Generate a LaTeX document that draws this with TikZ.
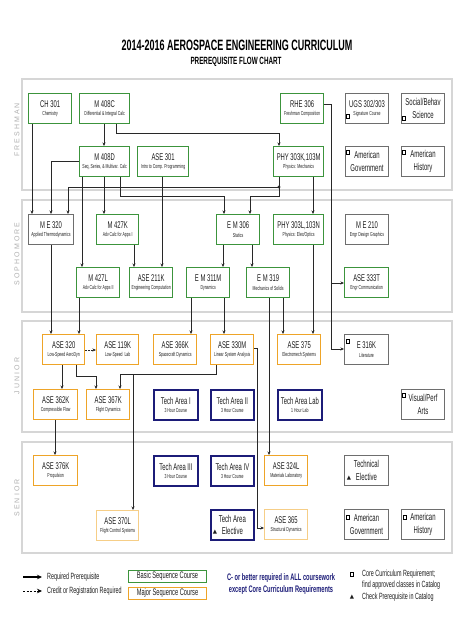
\documentclass[tikz,border=0pt]{standalone}
\usepackage{fontspec}
\setmainfont{Liberation Sans}[FakeStretch=0.6]
\newfontfamily\lblfont{Liberation Sans}[LetterSpace=30]
\newfontfamily\symfont{DejaVu Sans}
\usetikzlibrary{arrows.meta}
\definecolor{cgreen}{RGB}{60,148,60}
\definecolor{corange}{RGB}{238,164,40}
\definecolor{cpale}{RGB}{246,206,135}
\definecolor{cnavy}{RGB}{28,28,120}
\definecolor{cgray}{RGB}{110,110,110}
\definecolor{cpanel}{RGB}{214,214,214}
\definecolor{clbl}{RGB}{175,175,175}
\definecolor{cline}{RGB}{40,40,40}
\definecolor{ctext}{RGB}{30,30,30}
\newcommand\subt[1]{\\[-1.5pt]{\fontsize{5.8}{6}\selectfont #1}}
\tikzset{
  crs/.style={draw, fill=white, minimum height=30pt, inner sep=0pt, align=center,
    anchor=north west, text=ctext, font=\fontsize{9.8}{10}\selectfont},
  basic/.style={crs, draw=cgreen, line width=1.3pt},
  major/.style={crs, draw=corange, line width=1.4pt},
  pale/.style={crs, draw=cpale, line width=1.3pt},
  tech/.style={crs, draw=cnavy, line width=1.7pt},
  techbig/.style={tech, font=\fontsize{10}{12.5}\selectfont},
  corecode/.style={crs, draw=cgray, line width=1pt},
  core/.style={corecode, font=\fontsize{10}{12.5}\selectfont},
  panel/.style={draw=cpanel, line width=1.2pt, fill=white},
  yr/.style={rotate=90, text=clbl, font=\lblfont\fontsize{7}{8}\selectfont},
  arr/.style={draw=cline, line width=0.7pt, -{Stealth[length=3.5pt,width=3pt]}},
  dotarr/.style={arr, dash pattern=on 1.5pt off 1.5pt},
  legarr/.style={draw=black, line width=1.2pt, -{Stealth[length=5pt,width=4.5pt]}},
  legdash/.style={legarr, line width=0.8pt, dash pattern=on 2pt off 1.5pt},
  sqsym/.style={draw=black, line width=0.5pt, minimum width=2.6pt, minimum height=3.6pt, inner sep=0pt},
  trisym/.style={inner sep=0pt, text=ctext, font=\symfont\fontsize{5.5}{5.5}\selectfont},
  legtxt/.style={anchor=west, inner sep=0pt, text=ctext, font=\fontsize{9}{10}\selectfont},
  legbox/.style={anchor=north west, inner sep=0pt, line width=1pt, minimum width=78pt,
    minimum height=12pt, text=ctext, font=\fontsize{9.5}{10}\selectfont},
}
\begin{document}
\begin{tikzpicture}[x=1pt,y=-1pt]
\useasboundingbox (0,0) rectangle (474,632);
\fill[white] (0,0) rectangle (474,632);
\foreach \v in {32,51,55,62,68,76,79,82,96,104,116,120,133,134,162,191,216,223,224,250,252,257,269,279,283,313,331}
  \coordinate (X\v) at (\v,0);
\foreach \v in {104,133,161,187,196,283,348,349,350,374,376,528}
  \coordinate (Y\v) at (0,\v);

% title
\node[font=\bfseries\fontsize{15}{18}\selectfont, text=black] (title) at (237,45) {2014-2016 AEROSPACE ENGINEERING CURRICULUM};
\node[font=\bfseries\fontsize{10.5}{12}\selectfont, text=black] (subtitle) at (236,62) {PREREQUISITE FLOW CHART};

% panels
\draw[panel] (22,79) rectangle (452,190);
\draw[panel] (22,200) rectangle (452,312);
\draw[panel] (22,321) rectangle (452,432);
\draw[panel] (22,442) rectangle (452,553);
\node[yr] (lfr) at (17,130) {FRESHMAN};
\node[yr] (lso) at (17,254) {SOPHOMORE};
\node[yr] (lju) at (17,376) {JUNIOR};
\node[yr] (lse) at (17,498) {SENIOR};

% freshman
\node[basic, minimum width=43pt] (ch301) at (28,93) {CH 301\subt{Chemistry}};
\node[basic, minimum width=50pt] (m408c) at (79,93) {M 408C\subt{Differential \& Integral Calc}};
\node[basic, minimum width=43pt] (rhe306) at (280,93) {RHE 306\subt{Freshman Composition}};
\node[corecode, minimum width=43pt] (ugs) at (345,93) {UGS 302/303\subt{Signature Course}};
\node[core, minimum width=43pt] (socbeh) at (401,93) {Social/Behav\\Science};
\node[basic, minimum width=50pt] (m408d) at (79,146) {M 408D\subt{Seq, Series, \& Multivar. Calc}};
\node[basic, minimum width=51pt] (ase301) at (137,146) {ASE 301\subt{Intro to Comp. Programming}};
\node[basic, minimum width=50pt] (phy303k) at (273,146) {PHY 303K,103M\subt{Physics: Mechanics}};
\node[core, minimum width=43pt] (amgov1) at (345,146) {American\\Government};
\node[core, minimum width=43pt] (amhist1) at (401,146) {American\\History};

% sophomore
\node[corecode, minimum width=45pt] (me320) at (28,214) {M E 320\subt{Applied Thermodynamics}};
\node[basic, minimum width=42pt] (m427k) at (96,214) {M 427K\subt{Adv Calc for Apps I}};
\node[basic, minimum width=43pt] (em306) at (216,214) {E M 306\subt{Statics}};
\node[basic, minimum width=50pt] (phy303l) at (273,214) {PHY 303L,103N\subt{Physics: Elec/Optics}};
\node[corecode, minimum width=43pt] (me210) at (345,214) {M E 210\subt{Engr Design Graphics}};
\node[basic, minimum width=43pt] (m427l) at (76,267) {M 427L\subt{Adv Calc for Apps II}};
\node[basic, minimum width=43pt] (ase211k) at (129,267) {ASE 211K\subt{Engineering Computation}};
\node[basic, minimum width=43pt] (em311m) at (186,267) {E M 311M\subt{Dynamics}};
\node[basic, minimum width=43pt] (em319) at (246,267) {E M 319\subt{Mechanics of Solids}};
\node[basic, minimum width=44pt] (ase333t) at (344,267) {ASE 333T\subt{Engr Communication}};

% junior
\node[major, minimum width=42pt] (ase320) at (42,334) {ASE 320\subt{Low-Speed AeroDyn}};
\node[major, minimum width=42pt] (ase119k) at (96,334) {ASE 119K\subt{Low-Speed\ \ Lab}};
\node[major, minimum width=43pt] (ase366k) at (153,334) {ASE 366K\subt{Spacecraft Dynamics}};
\node[major, minimum width=43pt] (ase330m) at (210,334) {ASE 330M\subt{Linear System Analysis}};
\node[major, minimum width=43pt] (ase375) at (277,334) {ASE 375\subt{Electromech Systems}};
\node[corecode, minimum width=44pt] (e316k) at (344,334) {E 316K\subt{Literature}};
\node[major, minimum width=44pt] (ase362k) at (33,389) {ASE 362K\subt{Compressible Flow}};
\node[major, minimum width=43pt] (ase367k) at (86,389) {ASE 367K\subt{Flight Dynamics}};
\node[tech, minimum width=44pt] (ta1) at (153,389) {Tech Area I\subt{3 Hour Course}};
\node[tech, minimum width=43pt] (ta2) at (210,389) {Tech Area II\subt{3 Hour Course}};
\node[tech, minimum width=44pt] (talab) at (277,389) {Tech Area Lab\subt{1 Hour Lab}};
\node[core, minimum width=43pt] (visarts) at (401,389) {Visual/Perf\\Arts};

% senior
\node[major, minimum width=44pt] (ase376k) at (33,455) {ASE 376K\subt{Propulsion}};
\node[tech, minimum width=44pt] (ta3) at (153,455) {Tech Area III\subt{3 Hour Course}};
\node[tech, minimum width=43pt] (ta4) at (210,455) {Tech Area IV\subt{3 Hour Course}};
\node[major, minimum width=43pt] (ase324l) at (264,455) {ASE 324L\subt{Materials Laboratory}};
\node[core, minimum width=44pt] (techel) at (344,455) {Technical\\Elective};
\node[pale, minimum width=42pt] (ase370l) at (96,510) {ASE 370L\subt{Flight Control Systems}};
\node[techbig, minimum width=43pt] (taelec) at (210,509) {Tech Area\\Elective};
\node[pale, minimum width=43pt] (ase365) at (264,509) {ASE 365\subt{Structural Dynamics}};
\node[core, minimum width=44pt] (amgov2) at (344,509) {American\\Government};
\node[core, minimum width=43pt] (amhist2) at (401,509) {American\\History};

% symbols
\node[sqsym] (sq1) at (347.5,116) {};
\node[sqsym] (sq2) at (403.5,118) {};
\node[sqsym] (sq3) at (347.5,152) {};
\node[sqsym] (sq4) at (404,152) {};
\node[sqsym] (sq5) at (348,341) {};
\node[sqsym] (sq6) at (404,395) {};
\node[sqsym] (sq7) at (347.5,517) {};
\node[sqsym] (sq8) at (405,517) {};
\node[trisym] (tr1) at (349,478) {▲};
\node[trisym] (tr2) at (215,532) {▲};

% connectors
\draw[arr] (ch301.south -| X32) -- (me320.north -| X32);
\draw[arr] (m408c.south -| X104) -- (m408d.north -| X104);
\draw[arr] (m408c.south -| X116) -- (X116 |- Y133) -| (phy303k.north -| X279);
\draw[arr] (m408d.west |- Y161) -| (me320.north -| X51);
\draw[arr] (phy303k.south -| X279) -- (X279 |- Y187) -| (me320.north -| X68);
\draw[arr] (phy303k.south -| X279) -- (X279 |- Y196) -| (em306.north -| X250);
\fill[cline] (X279 |- Y187) circle (1.6pt);
\draw[arr] (m408d.south -| X82) -- (m427l.north -| X82);
\draw[arr] (m408d.south -| X104) -- (m427k.north -| X104);
\draw[arr] (m408d.south -| X120) -- (X120 |- Y196) -| (em306.north -| X224);
\draw[arr] (ase301.south -| X162) -- (ase211k.north -| X162);
\draw[arr] (phy303k.south -| X313) -- (phy303l.north -| X313);
\draw[arr] (rhe306.east |- Y104) -| (X331 |- Y283) -- (ase333t.west |- Y283);
\draw[arr] (rhe306.east |- Y104) -| (X331 |- Y349) -- (e316k.west |- Y349);
\draw[arr] (m427k.south -| X134) -- (ase211k.north -| X134);
\draw[arr] (em306.south -| X223) -- (em311m.north -| X223);
\draw[arr] (em306.south -| X252) -- (em319.north -| X252);
\draw[arr] (me320.south -| X51) -- (ase320.north -| X51);
\draw[arr] (m427l.south -| X79) -- (ase320.north -| X79);
\draw[arr] (em311m.south -| X191) -- (ase366k.north -| X191);
\draw[arr] (em311m.south -| X224) -- (ase330m.north -| X224);
\draw[arr] (em319.south -| X283) -- (ase375.north -| X283);
\draw[arr] (phy303l.south -| X313) -- (ase375.north -| X313);
\draw[arr] (em319.south -| X269) -- (ase324l.north -| X269);
\draw[dotarr] (ase320.east |- Y350) -- (ase119k.west |- Y350);
\draw[arr] (ase320.south -| X62) -- (ase362k.north -| X62);
\draw[arr] (ase320.south -| X76) -- (X76 |- Y376) -| (ase367k.north -| X96);
\draw[arr] (ase330m.south -| X216) -- (X216 |- Y374) -| (ase367k.north -| X120);
\draw[arr] (ase330m.south -| X216) -- (X216 |- Y374) -| (ase370l.north -| X133);
\draw[arr] (ase330m.east |- Y348) -| (X257 |- Y528) -- (ase365.west |- Y528);
\draw[arr] (ase362k.south -| X55) -- (ase376k.north -| X55);

% legend
\coordinate (la1) at (23,577);
\coordinate (la2) at (42,577);
\coordinate (lb1) at (23,591);
\coordinate (lb2) at (42,591);
\draw[legarr] (la1) -- (la2);
\draw[legdash] (lb1) -- (lb2);
\node[legtxt] (lt1) at (47,577) {Required Prerequisite};
\node[legtxt] (lt2) at (47,591) {Credit or Registration Required};
\node[legbox, draw=cgreen] (lgb) at (128,570) {Basic Sequence Course};
\node[legbox, draw=corange] (lgm) at (128,587) {Major Sequence Course};
\node[align=center, text=cnavy, font=\bfseries\fontsize{9.5}{12}\selectfont] (cnote) at (281,584) {C- or better required in ALL coursework\\except Core Curriculum Requirements};
\node[sqsym] (sq9) at (352,574) {};
\node[legtxt] (lt3) at (362,574) {Core Curriculum Requirement;};
\node[legtxt] (lt4) at (362,585) {find approved classes in Catalog};
\node[trisym] (tr3) at (352,597) {▲};
\node[legtxt] (lt5) at (362,597) {Check Prerequisite in Catalog};
\end{tikzpicture}
\end{document}
